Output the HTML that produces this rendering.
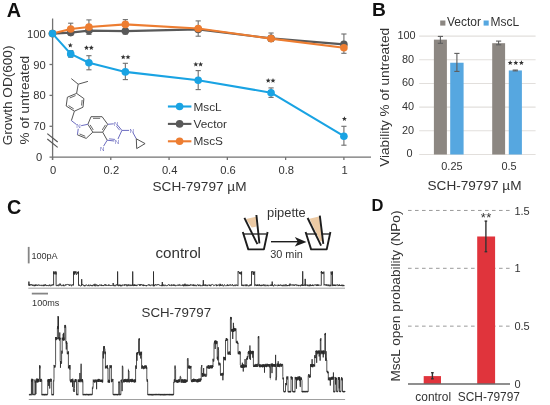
<!DOCTYPE html>
<html><head><meta charset="utf-8"><style>
html,body{margin:0;padding:0;background:#fff;}
svg{display:block;will-change:transform;filter:blur(0.3px);}
text{font-family:"Liberation Sans",sans-serif;}
</style></head><body>
<svg width="550" height="405" viewBox="0 0 550 405" font-family="Liberation Sans, sans-serif">
<rect width="550" height="405" fill="#fff"/>
<text x="6.8" y="16.9" font-size="19.8" text-anchor="start" fill="#111" font-weight="bold" >A</text>
<line x1="52.6" y1="18.5" x2="52.6" y2="160" stroke="#727272" stroke-width="1.3" />
<line x1="49.5" y1="157.1" x2="371" y2="157.1" stroke="#727272" stroke-width="1.3" />
<line x1="49.5" y1="33.6" x2="52.6" y2="33.6" stroke="#727272" stroke-width="1.3" />
<text x="45.7" y="37.6" font-size="11.2" text-anchor="end" fill="#333" font-weight="normal" >100</text>
<line x1="49.5" y1="64.5" x2="52.6" y2="64.5" stroke="#727272" stroke-width="1.3" />
<text x="45.7" y="68.5" font-size="11.2" text-anchor="end" fill="#333" font-weight="normal" >90</text>
<line x1="49.5" y1="95.4" x2="52.6" y2="95.4" stroke="#727272" stroke-width="1.3" />
<text x="45.7" y="99.4" font-size="11.2" text-anchor="end" fill="#333" font-weight="normal" >80</text>
<line x1="49.5" y1="126.3" x2="52.6" y2="126.3" stroke="#727272" stroke-width="1.3" />
<text x="45.7" y="130.3" font-size="11.2" text-anchor="end" fill="#333" font-weight="normal" >70</text>
<text x="42.2" y="161.4" font-size="11.2" text-anchor="end" fill="#333" font-weight="normal" >0</text>
<line x1="47.3" y1="133.6" x2="57.7" y2="142" stroke="#555" stroke-width="1.2" />
<line x1="47.3" y1="139" x2="57.7" y2="147.4" stroke="#555" stroke-width="1.2" />
<line x1="52.5" y1="157.1" x2="52.5" y2="160" stroke="#727272" stroke-width="1.3" />
<text x="53.1" y="174.2" font-size="11.2" text-anchor="middle" fill="#333" font-weight="normal" >0</text>
<line x1="110.78" y1="157.1" x2="110.78" y2="160" stroke="#727272" stroke-width="1.3" />
<text x="111.38" y="174.2" font-size="11.2" text-anchor="middle" fill="#333" font-weight="normal" >0.2</text>
<line x1="169.06" y1="157.1" x2="169.06" y2="160" stroke="#727272" stroke-width="1.3" />
<text x="169.66" y="174.2" font-size="11.2" text-anchor="middle" fill="#333" font-weight="normal" >0.4</text>
<line x1="227.34" y1="157.1" x2="227.34" y2="160" stroke="#727272" stroke-width="1.3" />
<text x="227.94" y="174.2" font-size="11.2" text-anchor="middle" fill="#333" font-weight="normal" >0.6</text>
<line x1="285.62" y1="157.1" x2="285.62" y2="160" stroke="#727272" stroke-width="1.3" />
<text x="286.22" y="174.2" font-size="11.2" text-anchor="middle" fill="#333" font-weight="normal" >0.8</text>
<line x1="343.9" y1="157.1" x2="343.9" y2="160" stroke="#727272" stroke-width="1.3" />
<text x="344.5" y="174.2" font-size="11.2" text-anchor="middle" fill="#333" font-weight="normal" >1</text>
<text x="199.5" y="190.7" font-size="13.6" text-anchor="middle" fill="#333" font-weight="normal" >SCH-79797 µM</text>
<text transform="translate(12.3,95.4) rotate(-90)" font-size="13.6" text-anchor="middle" fill="#333">Growth OD(600)</text>
<text transform="translate(28.6,100.2) rotate(-90)" font-size="13.6" text-anchor="middle" fill="#333">% of untreated</text>
<line x1="70.71" y1="23.2" x2="70.71" y2="35.2" stroke="#6e6e6e" stroke-width="1.1" />
<line x1="68.11" y1="23.2" x2="73.31" y2="23.2" stroke="#6e6e6e" stroke-width="1.1" />
<line x1="68.11" y1="35.2" x2="73.31" y2="35.2" stroke="#6e6e6e" stroke-width="1.1" />
<line x1="88.92" y1="19.9" x2="88.92" y2="34.4" stroke="#6e6e6e" stroke-width="1.1" />
<line x1="86.33" y1="19.9" x2="91.52" y2="19.9" stroke="#6e6e6e" stroke-width="1.1" />
<line x1="86.33" y1="34.4" x2="91.52" y2="34.4" stroke="#6e6e6e" stroke-width="1.1" />
<line x1="125.35" y1="19.6" x2="125.35" y2="34.1" stroke="#6e6e6e" stroke-width="1.1" />
<line x1="122.75" y1="19.6" x2="127.95" y2="19.6" stroke="#6e6e6e" stroke-width="1.1" />
<line x1="122.75" y1="34.1" x2="127.95" y2="34.1" stroke="#6e6e6e" stroke-width="1.1" />
<line x1="198.2" y1="20.9" x2="198.2" y2="36.2" stroke="#6e6e6e" stroke-width="1.1" />
<line x1="195.6" y1="20.9" x2="200.8" y2="20.9" stroke="#6e6e6e" stroke-width="1.1" />
<line x1="195.6" y1="36.2" x2="200.8" y2="36.2" stroke="#6e6e6e" stroke-width="1.1" />
<line x1="271.05" y1="33" x2="271.05" y2="41.5" stroke="#6e6e6e" stroke-width="1.1" />
<line x1="268.45" y1="33" x2="273.65" y2="33" stroke="#6e6e6e" stroke-width="1.1" />
<line x1="268.45" y1="41.5" x2="273.65" y2="41.5" stroke="#6e6e6e" stroke-width="1.1" />
<line x1="343.9" y1="34" x2="343.9" y2="53.3" stroke="#6e6e6e" stroke-width="1.1" />
<line x1="341.3" y1="34" x2="346.5" y2="34" stroke="#6e6e6e" stroke-width="1.1" />
<line x1="341.3" y1="53.3" x2="346.5" y2="53.3" stroke="#6e6e6e" stroke-width="1.1" />
<polyline points="52.5,33.6 70.71,32.6 88.92,30.6 125.35,31.1 198.2,29.4 271.05,38.4 343.9,44.4" fill="none" stroke="#595959" stroke-width="2.1" stroke-linejoin="round"/>
<circle cx="52.5" cy="33.6" r="3.8" fill="#595959"/>
<circle cx="70.71" cy="32.6" r="3.8" fill="#595959"/>
<circle cx="88.92" cy="30.6" r="3.8" fill="#595959"/>
<circle cx="125.35" cy="31.1" r="3.8" fill="#595959"/>
<circle cx="198.2" cy="29.4" r="3.8" fill="#595959"/>
<circle cx="271.05" cy="38.4" r="3.8" fill="#595959"/>
<circle cx="343.9" cy="44.4" r="3.8" fill="#595959"/>
<polyline points="52.5,33.6 70.71,29 88.92,27 125.35,24.4 198.2,28.5 271.05,38.6 343.9,47.8" fill="none" stroke="#ed7d31" stroke-width="2.1" stroke-linejoin="round"/>
<circle cx="52.5" cy="33.6" r="3.8" fill="#ed7d31"/>
<circle cx="70.71" cy="29" r="3.8" fill="#ed7d31"/>
<circle cx="88.92" cy="27" r="3.8" fill="#ed7d31"/>
<circle cx="125.35" cy="24.4" r="3.8" fill="#ed7d31"/>
<circle cx="198.2" cy="28.5" r="3.8" fill="#ed7d31"/>
<circle cx="271.05" cy="38.6" r="3.8" fill="#ed7d31"/>
<circle cx="343.9" cy="47.8" r="3.8" fill="#ed7d31"/>
<line x1="70.71" y1="50.6" x2="70.71" y2="57.2" stroke="#6e6e6e" stroke-width="1.1" />
<line x1="68.11" y1="50.6" x2="73.31" y2="50.6" stroke="#6e6e6e" stroke-width="1.1" />
<line x1="68.11" y1="57.2" x2="73.31" y2="57.2" stroke="#6e6e6e" stroke-width="1.1" />
<line x1="88.92" y1="55.7" x2="88.92" y2="69.8" stroke="#6e6e6e" stroke-width="1.1" />
<line x1="86.33" y1="55.7" x2="91.52" y2="55.7" stroke="#6e6e6e" stroke-width="1.1" />
<line x1="86.33" y1="69.8" x2="91.52" y2="69.8" stroke="#6e6e6e" stroke-width="1.1" />
<line x1="125.35" y1="63.3" x2="125.35" y2="79.6" stroke="#6e6e6e" stroke-width="1.1" />
<line x1="122.75" y1="63.3" x2="127.95" y2="63.3" stroke="#6e6e6e" stroke-width="1.1" />
<line x1="122.75" y1="79.6" x2="127.95" y2="79.6" stroke="#6e6e6e" stroke-width="1.1" />
<line x1="198.2" y1="70.6" x2="198.2" y2="89.6" stroke="#6e6e6e" stroke-width="1.1" />
<line x1="195.6" y1="70.6" x2="200.8" y2="70.6" stroke="#6e6e6e" stroke-width="1.1" />
<line x1="195.6" y1="89.6" x2="200.8" y2="89.6" stroke="#6e6e6e" stroke-width="1.1" />
<line x1="271.05" y1="87.9" x2="271.05" y2="97.4" stroke="#6e6e6e" stroke-width="1.1" />
<line x1="268.45" y1="87.9" x2="273.65" y2="87.9" stroke="#6e6e6e" stroke-width="1.1" />
<line x1="268.45" y1="97.4" x2="273.65" y2="97.4" stroke="#6e6e6e" stroke-width="1.1" />
<line x1="343.9" y1="126.3" x2="343.9" y2="145.2" stroke="#6e6e6e" stroke-width="1.1" />
<line x1="341.3" y1="126.3" x2="346.5" y2="126.3" stroke="#6e6e6e" stroke-width="1.1" />
<line x1="341.3" y1="145.2" x2="346.5" y2="145.2" stroke="#6e6e6e" stroke-width="1.1" />
<polyline points="52.5,33.6 70.71,53.9 88.92,62.7 125.35,71.9 198.2,80.2 271.05,92.7 343.9,136.2" fill="none" stroke="#19a3e3" stroke-width="2.1" stroke-linejoin="round"/>
<circle cx="52.5" cy="33.6" r="3.8" fill="#19a3e3"/>
<circle cx="70.71" cy="53.9" r="3.8" fill="#19a3e3"/>
<circle cx="88.92" cy="62.7" r="3.8" fill="#19a3e3"/>
<circle cx="125.35" cy="71.9" r="3.8" fill="#19a3e3"/>
<circle cx="198.2" cy="80.2" r="3.8" fill="#19a3e3"/>
<circle cx="271.05" cy="92.7" r="3.8" fill="#19a3e3"/>
<circle cx="343.9" cy="136.2" r="3.8" fill="#19a3e3"/>
<polygon points="70.3,42.8 70.99,44.45 72.77,44.6 71.41,45.76 71.83,47.5 70.3,46.57 68.77,47.5 69.19,45.76 67.83,44.6 69.61,44.45" fill="#333"/>
<polygon points="86.5,45.2 87.19,46.85 88.97,47 87.61,48.16 88.03,49.9 86.5,48.97 84.97,49.9 85.39,48.16 84.03,47 85.81,46.85" fill="#333"/>
<polygon points="91.3,45.2 91.99,46.85 93.77,47 92.41,48.16 92.83,49.9 91.3,48.97 89.77,49.9 90.19,48.16 88.83,47 90.61,46.85" fill="#333"/>
<polygon points="123.2,54.5 123.89,56.15 125.67,56.3 124.31,57.46 124.73,59.2 123.2,58.27 121.67,59.2 122.09,57.46 120.73,56.3 122.51,56.15" fill="#333"/>
<polygon points="128,54.5 128.69,56.15 130.47,56.3 129.11,57.46 129.53,59.2 128,58.27 126.47,59.2 126.89,57.46 125.53,56.3 127.31,56.15" fill="#333"/>
<polygon points="195.8,61.8 196.49,63.45 198.27,63.6 196.91,64.76 197.33,66.5 195.8,65.57 194.27,66.5 194.69,64.76 193.33,63.6 195.11,63.45" fill="#333"/>
<polygon points="200.6,61.8 201.29,63.45 203.07,63.6 201.71,64.76 202.13,66.5 200.6,65.57 199.07,66.5 199.49,64.76 198.13,63.6 199.91,63.45" fill="#333"/>
<polygon points="268.2,78 268.89,79.65 270.67,79.8 269.31,80.96 269.73,82.7 268.2,81.77 266.67,82.7 267.09,80.96 265.73,79.8 267.51,79.65" fill="#333"/>
<polygon points="273,78 273.69,79.65 275.47,79.8 274.11,80.96 274.53,82.7 273,81.77 271.47,82.7 271.89,80.96 270.53,79.8 272.31,79.65" fill="#333"/>
<polygon points="344.4,116.3 345.09,117.95 346.87,118.1 345.51,119.26 345.93,121 344.4,120.07 342.87,121 343.29,119.26 341.93,118.1 343.71,117.95" fill="#333"/>
<line x1="167.9" y1="106.5" x2="191.4" y2="106.5" stroke="#19a3e3" stroke-width="2.1" />
<circle cx="179.6" cy="106.5" r="3.8" fill="#19a3e3"/>
<text x="193.5" y="110.6" font-size="11.8" text-anchor="start" fill="#333" font-weight="normal" >MscL</text>
<line x1="167.9" y1="123.9" x2="191.4" y2="123.9" stroke="#595959" stroke-width="2.1" />
<circle cx="179.6" cy="123.9" r="3.8" fill="#595959"/>
<text x="193.5" y="128" font-size="11.8" text-anchor="start" fill="#333" font-weight="normal" >Vector</text>
<line x1="167.9" y1="141.3" x2="191.4" y2="141.3" stroke="#ed7d31" stroke-width="2.1" />
<circle cx="179.6" cy="141.3" r="3.8" fill="#ed7d31"/>
<text x="193.5" y="145.4" font-size="11.8" text-anchor="start" fill="#333" font-weight="normal" >MscS</text>
<line x1="71.3" y1="78.6" x2="78.2" y2="84.2" stroke="#555" stroke-width="1.0" />
<line x1="78.2" y1="84.2" x2="87.9" y2="81.4" stroke="#555" stroke-width="1.0" />
<line x1="78.2" y1="84.2" x2="76.6" y2="93.4" stroke="#555" stroke-width="1.0" />
<line x1="76.6" y1="93.4" x2="83.9" y2="98.6" stroke="#555" stroke-width="1.0" />
<line x1="83.9" y1="98.6" x2="83" y2="107.2" stroke="#555" stroke-width="1.0" />
<line x1="83" y1="107.2" x2="74.4" y2="111.2" stroke="#555" stroke-width="1.0" />
<line x1="74.4" y1="111.2" x2="66.2" y2="106" stroke="#555" stroke-width="1.0" />
<line x1="66.2" y1="106" x2="67.4" y2="97.2" stroke="#555" stroke-width="1.0" />
<line x1="67.4" y1="97.2" x2="76.6" y2="93.4" stroke="#555" stroke-width="1.0" />
<line x1="69.67" y1="97.99" x2="75.55" y2="95.56" stroke="#555" stroke-width="0.9" />
<line x1="82.15" y1="99.98" x2="81.57" y2="105.49" stroke="#555" stroke-width="0.9" />
<line x1="73.78" y1="108.91" x2="68.53" y2="105.58" stroke="#555" stroke-width="0.9" />
<line x1="74.4" y1="111.2" x2="71.4" y2="120.6" stroke="#555" stroke-width="1.0" />
<line x1="71.4" y1="120.6" x2="78.6" y2="126.2" stroke="#6b6bc0" stroke-width="1.0" />
<line x1="91" y1="116.7" x2="102.1" y2="116.7" stroke="#555" stroke-width="1.0" />
<line x1="102.1" y1="116.7" x2="107.7" y2="124.3" stroke="#555" stroke-width="1.0" />
<line x1="107.7" y1="124.3" x2="102.7" y2="132.2" stroke="#555" stroke-width="1.0" />
<line x1="102.7" y1="132.2" x2="92.8" y2="132.2" stroke="#555" stroke-width="1.0" />
<line x1="92.8" y1="132.2" x2="87.9" y2="124.3" stroke="#555" stroke-width="1.0" />
<line x1="87.9" y1="124.3" x2="91" y2="116.7" stroke="#555" stroke-width="1.0" />
<line x1="93" y1="118.3" x2="100.1" y2="118.3" stroke="#555" stroke-width="0.9" />
<line x1="105.45" y1="124.87" x2="102.25" y2="129.92" stroke="#555" stroke-width="0.9" />
<line x1="93.28" y1="129.93" x2="90.14" y2="124.88" stroke="#555" stroke-width="0.9" />
<line x1="78.6" y1="126.2" x2="87.9" y2="124.3" stroke="#6b6bc0" stroke-width="1.0" />
<line x1="78.6" y1="126.2" x2="77.4" y2="134.8" stroke="#6b6bc0" stroke-width="1.0" />
<line x1="77.4" y1="134.8" x2="86.2" y2="138.4" stroke="#555" stroke-width="1.0" />
<line x1="86.2" y1="138.4" x2="92.8" y2="132.2" stroke="#555" stroke-width="1.0" />
<line x1="79.59" y1="133.97" x2="85.22" y2="136.27" stroke="#555" stroke-width="0.9" />
<line x1="107.7" y1="124.3" x2="116.3" y2="123.6" stroke="#6b6bc0" stroke-width="1.0" />
<line x1="116.3" y1="123.6" x2="121.9" y2="130.4" stroke="#6b6bc0" stroke-width="1.0" />
<line x1="121.9" y1="130.4" x2="116.9" y2="141.3" stroke="#6b6bc0" stroke-width="1.0" />
<line x1="116.9" y1="141.3" x2="107.2" y2="140.2" stroke="#6b6bc0" stroke-width="1.0" />
<line x1="107.2" y1="140.2" x2="102.7" y2="132.2" stroke="#555" stroke-width="1.0" />
<line x1="116.07" y1="125.84" x2="119.66" y2="130.19" stroke="#6b6bc0" stroke-width="0.9" />
<line x1="115.33" y1="139.51" x2="109.13" y2="138.81" stroke="#6b6bc0" stroke-width="0.9" />
<line x1="107.2" y1="140.2" x2="102.2" y2="148.4" stroke="#6b6bc0" stroke-width="1.0" />
<line x1="121.9" y1="130.4" x2="131.7" y2="130.4" stroke="#6b6bc0" stroke-width="1.0" />
<line x1="131.7" y1="130.4" x2="136.3" y2="138.8" stroke="#6b6bc0" stroke-width="1.0" />
<line x1="136.3" y1="138.8" x2="145.1" y2="143.6" stroke="#555" stroke-width="1.0" />
<line x1="145.1" y1="143.6" x2="136.7" y2="148.6" stroke="#555" stroke-width="1.0" />
<line x1="136.7" y1="148.6" x2="136.3" y2="138.8" stroke="#555" stroke-width="1.0" />
<circle cx="78.6" cy="126.2" r="2.6" fill="#fff"/>
<text x="78.6" y="128.4" font-size="6.2" text-anchor="middle" fill="#6b6bc0" font-weight="normal" >N</text>
<circle cx="116.3" cy="123.6" r="2.6" fill="#fff"/>
<text x="116.3" y="125.8" font-size="6.2" text-anchor="middle" fill="#6b6bc0" font-weight="normal" >N</text>
<circle cx="116.9" cy="141.3" r="2.6" fill="#fff"/>
<text x="116.9" y="143.5" font-size="6.2" text-anchor="middle" fill="#6b6bc0" font-weight="normal" >N</text>
<circle cx="102.2" cy="148.4" r="2.6" fill="#fff"/>
<text x="102.2" y="150.6" font-size="6.2" text-anchor="middle" fill="#6b6bc0" font-weight="normal" >N</text>
<circle cx="131.7" cy="130.4" r="2.6" fill="#fff"/>
<text x="131.7" y="132.6" font-size="6.2" text-anchor="middle" fill="#6b6bc0" font-weight="normal" >N</text>
<text x="371.9" y="16.4" font-size="19.2" text-anchor="start" fill="#111" font-weight="bold" >B</text>
<line x1="419.2" y1="154.5" x2="535.6" y2="154.5" stroke="#e2dfdc" stroke-width="1.1" />
<text x="412.6" y="157.3" font-size="10.9" text-anchor="end" fill="#333" font-weight="normal" >0</text>
<line x1="419.2" y1="130.82" x2="535.6" y2="130.82" stroke="#e2dfdc" stroke-width="1.1" />
<text x="414.2" y="133.62" font-size="10.9" text-anchor="end" fill="#333" font-weight="normal" >20</text>
<line x1="419.2" y1="107.14" x2="535.6" y2="107.14" stroke="#e2dfdc" stroke-width="1.1" />
<text x="414.2" y="109.94" font-size="10.9" text-anchor="end" fill="#333" font-weight="normal" >40</text>
<line x1="419.2" y1="83.46" x2="535.6" y2="83.46" stroke="#e2dfdc" stroke-width="1.1" />
<text x="414.2" y="86.26" font-size="10.9" text-anchor="end" fill="#333" font-weight="normal" >60</text>
<line x1="419.2" y1="59.78" x2="535.6" y2="59.78" stroke="#e2dfdc" stroke-width="1.1" />
<text x="414.2" y="62.58" font-size="10.9" text-anchor="end" fill="#333" font-weight="normal" >80</text>
<line x1="419.2" y1="36.1" x2="535.6" y2="36.1" stroke="#e2dfdc" stroke-width="1.1" />
<text x="415.6" y="38.9" font-size="10.9" text-anchor="end" fill="#333" font-weight="normal" >100</text>
<rect x="433.9" y="39.65" width="13" height="114.85" fill="#8c8782"/>
<rect x="450.2" y="62.74" width="13.4" height="91.76" fill="#56a7e0"/>
<rect x="492.2" y="43.2" width="12.9" height="111.3" fill="#8c8782"/>
<rect x="508.8" y="70.44" width="13.1" height="84.06" fill="#56a7e0"/>
<line x1="440.4" y1="36.4" x2="440.4" y2="43.3" stroke="#5d5d5d" stroke-width="1.1" />
<line x1="437.8" y1="36.4" x2="443" y2="36.4" stroke="#5d5d5d" stroke-width="1.1" />
<line x1="437.8" y1="43.3" x2="443" y2="43.3" stroke="#5d5d5d" stroke-width="1.1" />
<line x1="456.9" y1="53.4" x2="456.9" y2="71.4" stroke="#5d5d5d" stroke-width="1.1" />
<line x1="454.3" y1="53.4" x2="459.5" y2="53.4" stroke="#5d5d5d" stroke-width="1.1" />
<line x1="454.3" y1="71.4" x2="459.5" y2="71.4" stroke="#5d5d5d" stroke-width="1.1" />
<line x1="498.6" y1="41.1" x2="498.6" y2="44.8" stroke="#5d5d5d" stroke-width="1.1" />
<line x1="496" y1="41.1" x2="501.2" y2="41.1" stroke="#5d5d5d" stroke-width="1.1" />
<line x1="496" y1="44.8" x2="501.2" y2="44.8" stroke="#5d5d5d" stroke-width="1.1" />
<line x1="515.3" y1="70" x2="515.3" y2="70.9" stroke="#5d5d5d" stroke-width="1.0" />
<line x1="512.7" y1="70" x2="517.9" y2="70" stroke="#5d5d5d" stroke-width="1.0" />
<line x1="512.7" y1="70.9" x2="517.9" y2="70.9" stroke="#5d5d5d" stroke-width="1.0" />
<polygon points="510.2,60.3 510.89,61.95 512.67,62.1 511.31,63.26 511.73,65 510.2,64.07 508.67,65 509.09,63.26 507.73,62.1 509.51,61.95" fill="#333"/>
<polygon points="515.8,60.3 516.49,61.95 518.27,62.1 516.91,63.26 517.33,65 515.8,64.07 514.27,65 514.69,63.26 513.33,62.1 515.11,61.95" fill="#333"/>
<polygon points="521.4,60.3 522.09,61.95 523.87,62.1 522.51,63.26 522.93,65 521.4,64.07 519.87,65 520.29,63.26 518.93,62.1 520.71,61.95" fill="#333"/>
<rect x="440.2" y="20.5" width="5.2" height="5.1" fill="#8c8782"/>
<text x="447" y="26" font-size="12.0" text-anchor="start" fill="#333" font-weight="normal" >Vector</text>
<rect x="483.6" y="20.5" width="5.1" height="5.1" fill="#56a7e0"/>
<text x="490.6" y="26" font-size="12.0" text-anchor="start" fill="#333" font-weight="normal" >MscL</text>
<text x="451.9" y="170.3" font-size="10.9" text-anchor="middle" fill="#333" font-weight="normal" >0.25</text>
<text x="509" y="170.3" font-size="10.9" text-anchor="middle" fill="#333" font-weight="normal" >0.5</text>
<text x="474.5" y="190.4" font-size="13.6" text-anchor="middle" fill="#333" font-weight="normal" >SCH-79797 µM</text>
<text transform="translate(388.6,97.4) rotate(-90)" font-size="13.6" text-anchor="middle" fill="#333">Viability % of untreated</text>
<text x="7" y="214" font-size="19.8" text-anchor="start" fill="#111" font-weight="bold" >C</text>
<line x1="28.7" y1="246.9" x2="28.7" y2="263.4" stroke="#858585" stroke-width="1.8" />
<line x1="31.8" y1="293.6" x2="48" y2="293.6" stroke="#858585" stroke-width="1.8" />
<text x="31.4" y="258.8" font-size="9.1" text-anchor="start" fill="#333" font-weight="normal" >100pA</text>
<text x="32.1" y="305.8" font-size="9.1" text-anchor="start" fill="#333" font-weight="normal" >100ms</text>
<text x="178.2" y="258.3" font-size="15.2" text-anchor="middle" fill="#333" font-weight="normal" >control</text>
<text x="176.3" y="316.7" font-size="13.3" text-anchor="middle" fill="#333" font-weight="normal" >SCH-79797</text>
<text x="286.4" y="216.8" font-size="12.9" text-anchor="middle" fill="#333" font-weight="normal" >pipette</text>
<text x="286.6" y="258.3" font-size="10.9" text-anchor="middle" fill="#333" font-weight="normal" >30 min</text>
<line x1="28.3" y1="288.2" x2="345" y2="288.2" stroke="#a0a0a0" stroke-width="1.0" />
<line x1="28.8" y1="399.5" x2="345.1" y2="399.5" stroke="#a0a0a0" stroke-width="1.0" />
<polyline points="28.8,284.98 28.9,285.3 28.9,281.6 28.95,285.3 29.1,284.67 29.4,285.57 29.7,284.53 30,285.36 30.3,285.06 30.6,284.5 30.9,285.31 31.2,284.47 31.5,285.18 31.8,284.53 32.1,284.56 32.4,285.16 32.7,285.89 33,284.62 33.3,284.8 33.6,285.53 33.9,286.11 34.2,285.44 34.5,285.11 34.8,286.16 35.1,284.48 35.4,285.95 35.7,284.92 36,284.66 36.3,284.61 36.6,284.96 36.9,285.87 37.2,284.73 37.5,285.45 37.8,285.55 38.1,285.07 38.4,285.39 38.7,284.51 39,284.51 39.3,284.77 39.6,285.62 39.9,285.17 40.2,284.97 40.5,285.45 40.8,285.22 41.1,284.94 41.4,285.83 41.7,285.66 42,284.84 42.3,285.43 42.6,285.35 42.9,285.98 43.2,285.71 43.5,284.92 43.8,286.16 44.1,284.61 44.4,285.15 44.7,285.76 45,284.67 45.3,285.28 45.6,284.47 45.9,285.6 46.2,285.78 46.5,285.43 46.8,285.98 47.1,284.96 47.4,285.65 47.7,285.47 48,285.44 48.3,285.22 48.6,285.91 48.9,286.1 49.2,285.25 49.5,285.6 49.8,284.51 50.1,285.66 50.4,285.56 50.7,286.19 51,285.88 51.3,284.91 51.6,285.09 51.9,285.6 52.2,284.44 52.5,285.23 52.8,284.7 53.1,284.61 53.4,284.51 53.6,285.3 53.6,271.6 53.7,273.97 54,271.67 54.3,272.09 54.6,272.61 54.9,274.34 55.2,271.49 55.5,272.82 55.8,273.18 56.1,274.38 56.1,271.6 56.1,285.3 56.4,285.87 56.7,285.96 57,284.9 57.3,285.15 57.6,285.05 57.9,285.99 58.2,286.12 58.5,284.67 58.8,284.72 59.1,284.82 59.4,284.82 59.7,285.27 60,285.46 60,285.3 60,283.5 60.05,285.3 60.3,284.87 60.6,284.41 60.9,285.15 61.2,285.06 61.5,285.42 61.8,286.12 62.1,285.64 62.4,285.33 62.7,285.51 63,285.62 63.3,284.5 63.6,286.02 63.9,285.8 64.2,285.97 64.5,285.84 64.8,285.11 65.1,285.12 65.4,284.59 65.7,285.54 66,284.51 66.3,284.52 66.6,284.78 66.9,284.69 67.2,285.01 67.5,284.49 67.8,284.4 68.1,284.67 68.4,284.58 68.7,285.05 69,284.45 69.3,285.97 69.6,285.51 69.9,284.67 70.2,284.85 70.5,285.03 70.8,285.06 71.1,284.62 71.4,285.93 71.7,286.19 72,285.24 72.3,285.27 72.6,284.55 72.9,284.58 73.2,285.02 73.5,284.88 73.5,285.3 73.5,271.6 73.8,274.18 74.1,271.78 74.4,271.28 74.7,274.62 75,273.1 75.3,271.73 75.6,273.16 75.9,271.3 76.2,273.1 76.5,274.72 76.8,274.31 77.1,273.71 77.4,272.14 77.7,272.52 78,271.8 78.3,273.98 78.5,271.6 78.5,285.3 78.6,285.36 78.9,285.8 79.2,284.99 79.5,284.8 79.8,285.86 80.1,286.17 80.4,285.93 80.7,285.85 81,285.87 81.3,285.73 81.6,284.81 81.7,285.3 81.7,279.2 81.75,285.3 81.9,285.33 82.2,285.04 82.5,284.45 82.8,284.45 83.1,284.9 83.4,284.87 83.7,285.65 84,286.12 84.3,285.21 84.6,286.09 84.9,286.18 85.2,286.12 85.5,285.06 85.8,284.8 86.1,284.81 86.4,284.75 86.7,284.77 87,285.52 87.3,286.02 87.6,285.91 87.9,285.26 88.2,285.58 88.5,285.84 88.8,284.55 89.1,285.59 89.4,286.04 89.7,285.81 90,285.75 90.3,285.26 90.6,284.72 90.9,285.82 91.2,285 91.5,285.84 91.8,286.15 92.1,285.11 92.4,285.12 92.7,286.1 93,285.7 93.3,284.71 93.6,284.63 93.9,284.67 94.2,286.03 94.5,285.85 94.8,284.66 95,285.3 95,283.8 95.05,285.3 95.1,285.89 95.4,286.16 95.7,285.58 96,285.03 96.3,285.39 96.6,284.64 96.9,284.43 97.2,286.15 97.5,285.57 97.8,285.35 98.1,286.08 98.4,285.18 98.7,285.97 99,285.89 99.3,284.78 99.6,284.85 99.9,284.93 100.2,284.83 100.5,285.46 100.8,284.87 101.1,285.15 101.4,284.64 101.7,286.04 102,285.04 102.3,285.22 102.6,285.45 102.9,286.03 103.2,285.16 103.5,286.05 103.8,285.3 104.1,285.36 104.4,285.34 104.7,284.43 105,285.19 105.3,284.73 105.6,284.41 105.9,285.84 106.2,284.71 106.5,285.25 106.8,285.71 107.1,285.4 107.4,284.99 107.7,285.33 108,285.4 108.3,285.81 108.6,284.59 108.9,285.41 109.2,284.85 109.5,284.9 109.8,285.79 110.1,285.31 110.4,285.41 110.7,285.77 111,286.04 111.3,285.2 111.6,285.5 111.9,285.31 112.2,285.32 112.5,285.65 112.8,285.21 113.1,285.36 113.2,285.3 113.2,283 113.25,285.3 113.4,285.26 113.7,286.09 114,285.66 114.3,285.98 114.6,286.1 114.9,284.87 115.2,285.41 115.5,286.1 115.8,285.91 116.1,284.65 116.4,284.62 116.7,285.2 117,284.53 117.3,284.83 117.6,284.53 117.6,285.3 117.6,271.5 117.65,285.3 117.9,285.61 118.2,285.81 118.5,286.01 118.8,284.68 119.1,285.69 119.4,285.59 119.7,284.66 120,285.99 120.3,286.14 120.6,284.8 120.9,286.11 121.2,285.12 121.5,285.28 121.8,286.18 122.1,285.9 122.4,284.69 122.7,285.18 123,285.33 123.3,285.01 123.6,284.75 123.9,284.97 124.2,285.7 124.5,284.44 124.8,285.4 125.1,285.19 125.4,284.43 125.7,285 126,285.52 126.3,285.32 126.6,284.52 126.9,286.17 127.2,285.82 127.5,286.15 127.8,284.59 128.1,284.88 128.4,284.47 128.7,285.8 129,284.89 129.3,284.63 129.6,285.16 129.9,286.04 130.2,285.87 130.5,284.87 130.8,284.67 131.1,286.05 131.4,285.43 131.7,285.66 132,284.56 132.3,284.5 132.6,285.64 132.7,285.3 132.7,271.5 132.75,285.3 132.9,285.17 133.2,284.53 133.5,286.09 133.8,285.54 134.1,285.84 134.4,284.55 134.7,285.94 135,284.52 135.3,285.95 135.6,285.22 135.9,285.01 136.2,285.4 136.5,286.07 136.8,284.88 137.1,284.63 137.4,285.35 137.7,284.83 138,284.6 138.3,284.69 138.6,284.49 138.9,284.76 139.2,284.96 139.5,284.95 139.8,285.77 140,285.3 140,284 140.05,285.3 140.1,284.92 140.4,285.3 140.7,284.72 141,285.02 141.3,284.43 141.6,284.85 141.9,284.43 142.2,285.72 142.5,285.39 142.8,284.74 143.1,285.25 143.4,286.08 143.7,284.59 144,285.87 144.3,285.18 144.6,285.29 144.9,285.9 145.2,285.11 145.5,285.31 145.8,285.64 146.1,286.17 146.4,285.02 146.7,285.9 147,285.67 147.3,285.54 147.6,285.13 147.9,285.03 148.2,284.5 148.5,284.63 148.8,284.53 149.1,285.73 149.4,284.86 149.7,284.69 150,284.55 150.3,285.91 150.6,285.97 150.9,285.61 151.2,284.91 151.5,284.84 151.8,284.93 152.1,285.23 152.4,284.68 152.7,285.2 153,284.87 153.3,286.13 153.5,285.3 153.5,271.5 153.55,285.3 153.6,286.15 153.9,285.38 154.2,284.84 154.5,286.14 154.8,284.96 155.1,285.04 155.4,284.4 155.7,285.09 156,285.25 156.3,285.3 156.6,284.76 156.9,285.31 157.2,284.41 157.5,284.88 157.8,284.56 158.1,285.12 158.4,284.48 158.7,284.44 159,284.95 159.3,284.82 159.6,285.45 159.9,285.35 160.2,285.75 160.5,285.58 160.8,285.69 161.1,285.98 161.4,285.1 161.7,284.99 162,286.17 162.3,285.3 162.3,282 162.35,285.3 162.3,284.67 162.6,285.7 162.9,285.56 163.2,284.48 163.5,285.9 163.8,286.01 164.1,285.53 164.4,285.72 164.7,285.86 165,284.65 165.3,285.34 165.6,285.31 165.9,285.9 166.2,285.85 166.5,285.89 166.8,285.45 167.1,286.01 167.4,285.63 167.7,285.65 168,284.81 168.3,284.46 168.6,284.64 168.9,285.05 169.2,284.59 169.5,285.9 169.8,285.41 170.1,285.53 170.4,285.53 170.7,285.63 171,285.28 171.3,284.41 171.6,285.84 171.9,285.75 172.2,285.31 172.5,285.36 172.8,285.59 173.1,284.52 173.4,285.73 173.7,284.85 174,284.53 174.3,284.88 174.6,285.71 174.9,284.77 175.2,285.73 175.5,286.16 175.8,285.29 176.1,285.09 176.4,285.26 176.7,285.63 177,285.78 177.3,285.51 177.6,285.56 177.9,284.54 178.2,284.67 178.5,284.86 178.8,285.74 179.1,284.95 179.4,285.42 179.7,284.42 180,284.51 180.3,284.88 180.6,285.61 180.9,285.65 181.2,285.62 181.5,284.92 181.8,285.33 182.1,285.24 182.4,285.24 182.7,284.61 183,286.01 183.3,284.76 183.6,286.16 183.9,286.09 184.2,284.43 184.5,285.23 184.8,285.88 185,285.3 185,283.7 185.05,285.3 185.1,286.14 185.4,285.21 185.7,284.88 186,284.78 186.3,286.1 186.6,284.78 186.9,285.45 187.2,284.66 187.5,285.34 187.8,286.11 188.1,284.64 188.4,285.88 188.7,285.32 189,286 189.3,285.67 189.6,284.82 189.9,286.02 190.2,285.28 190.5,284.44 190.8,284.41 191.1,285.29 191.4,285.21 191.7,284.94 192,284.65 192.3,285.02 192.6,284.97 192.9,285.91 193.2,284.4 193.5,285.75 193.8,285.91 194.1,284.62 194.4,286.07 194.7,285.68 195,286.02 195.3,284.92 195.6,285.07 195.9,285.11 196.2,286.2 196.5,285.46 196.8,285.05 197.1,285.17 197.4,284.9 197.7,284.49 198,284.58 198.3,285.9 198.6,284.91 198.9,286.08 199.2,284.85 199.5,284.88 199.8,285.32 200.1,284.74 200.4,285.07 200.7,286.12 201,285.99 201.3,285.86 201.6,285.54 201.9,286.04 202.2,286.09 202.5,285.39 202.8,285.7 203.1,284.49 203.3,285.3 203.3,280.2 203.35,285.3 203.4,285.72 203.7,285.21 204,285.75 204.3,285.56 204.6,284.92 204.9,284.49 205.2,286.07 205.5,284.63 205.8,285.25 206.1,285.02 206.4,284.94 206.7,285.73 207,286.16 207.3,284.87 207.6,285.58 207.9,284.94 208.2,285.4 208.5,285.11 208.8,284.7 209.1,284.69 209.4,284.77 209.7,286.03 210,285.29 210.3,284.8 210.6,286.03 210.9,286.19 211.2,285.21 211.5,284.65 211.8,284.75 212.1,284.56 212.4,285.02 212.7,284.56 213,284.83 213.3,284.87 213.6,285.43 213.9,286 214.2,285.75 214.5,285.14 214.8,285.14 215.1,285.34 215.4,285.08 215.7,285.01 216,284.51 216.3,284.9 216.6,286.14 216.9,284.63 217.2,285.31 217.5,285.53 217.8,285.95 218.1,284.79 218.4,284.89 218.7,284.85 219,285.12 219.3,285.2 219.6,286.12 219.9,285.93 220,285.3 220,283.8 220.05,285.3 220.2,285.97 220.5,284.44 220.8,284.46 221.1,285.68 221.4,286.01 221.7,285.25 222,285.46 222.3,284.4 222.6,285.1 222.9,286.07 223.2,285.89 223.5,285.94 223.8,286.15 224.1,284.85 224.4,284.6 224.7,284.68 225,285.34 225.3,285.63 225.6,286.09 225.9,285.7 226.2,285.57 226.5,285.78 226.8,285.22 227.1,285.39 227.4,284.47 227.7,285.81 228,284.82 228.3,286.06 228.6,285.56 228.9,284.95 229.2,284.63 229.5,284.85 229.8,285.55 230.1,285.66 230.4,284.6 230.7,284.53 231,285.34 231.3,285.45 231.6,285.1 231.9,284.8 232.2,285.48 232.5,284.42 232.8,284.94 233.1,285.23 233.4,286.13 233.7,285.56 234,285.99 234.3,285.26 234.6,284.82 234.9,284.84 235.2,286.13 235.5,285.67 235.8,284.95 236.1,284.44 236.4,285.3 236.7,285.61 237,285.16 237.3,284.86 237.6,285.6 237.9,286.07 238,285.3 238,271.6 238.2,272.02 238.5,271.32 238.8,272.42 239.1,272.71 239.4,273.66 239.7,271.91 240,274.07 240.3,273.86 240.6,273.02 240.9,271.94 241.2,274.69 241.5,272.32 241.6,271.6 241.6,285.3 241.8,285.88 242.1,284.82 242.4,284.8 242.7,285.77 243,284.93 243.3,286.11 243.6,285.29 243.9,284.74 244.2,284.8 244.5,285.15 244.8,285.6 245.1,286.11 245.4,284.66 245.7,285.11 246,284.78 246.3,286.15 246.6,284.66 246.9,284.49 247.2,284.51 247.5,285.11 247.8,286.02 248.1,285.99 248.4,285.72 248.7,286.2 249,286.08 249.3,284.99 249.6,284.73 249.9,286.08 250.2,285.74 250.5,284.46 250.8,285.6 251.1,285.08 251.4,285.07 251.5,285.3 251.5,271.6 251.7,272.39 252,271.81 252.3,271.21 252.6,272.21 252.9,272.47 253.2,274.64 253.5,271.65 253.8,274.67 254.1,271.95 254.4,272.48 254.7,271.6 254.7,285.3 254.7,285.88 255,285.88 255.3,285.18 255.6,284.49 255.9,285.25 256.2,285.07 256.5,286.06 256.8,284.75 257.1,285.06 257.4,286.01 257.7,284.45 258,285.14 258.3,285.86 258.6,285.78 258.9,284.47 259.2,284.46 259.5,284.51 259.8,286.06 260.1,284.86 260.4,285.75 260.7,286.02 261,285.01 261.3,284.89 261.6,286.12 261.9,285.51 262.2,284.87 262.5,285.69 262.8,284.97 263.1,284.9 263.4,284.41 263.7,285.76 264,286.05 264.3,285.54 264.6,286.1 264.9,284.44 265.2,284.82 265.5,285.26 265.8,286.12 266.1,286.12 266.4,285.1 266.7,284.85 267,285.17 267.3,285.29 267.6,286.07 267.9,284.73 268.2,285.84 268.5,285.73 268.8,285.88 269.1,285.79 269.4,285.49 269.7,284.99 270,284.98 270.3,285.05 270.6,285.81 270.9,284.54 271.2,284.76 271.5,285.76 271.8,284.85 272.1,284.52 272.2,285.3 272.2,281.6 272.25,285.3 272.4,284.46 272.7,285.39 273,284.99 273.3,286.16 273.6,285.99 273.9,286.18 274.2,284.88 274.5,284.55 274.8,284.57 275.1,285.3 275.4,285.68 275.7,285.2 276,284.82 276.3,285.15 276.6,285.52 276.9,285.61 277.2,285.75 277.5,285.92 277.8,285.6 278.1,284.62 278.4,285.91 278.7,284.93 279,285.42 279.3,285.07 279.6,285.73 279.9,284.76 280.2,284.85 280.5,284.84 280.8,284.68 281.1,285.99 281.4,285.44 281.7,284.99 282,285.11 282.3,286.19 282.6,285.31 282.9,284.82 283.2,285.86 283.5,285.58 283.8,286.18 284.1,284.58 284.4,285.25 284.7,285.87 285,285.91 285.3,286.05 285.6,284.47 285.9,284.93 286.2,284.61 286.5,284.74 286.8,286.15 287.1,285.45 287.4,286.07 287.7,285.07 288,285.96 288.3,285.21 288.6,284.87 288.9,285.8 289.2,286.1 289.5,284.59 289.8,285.47 290,285.3 290,283.6 290.05,285.3 290.1,285.52 290.4,284.79 290.7,285.06 291,284.65 291.3,284.77 291.6,284.86 291.9,285.48 292.2,285.57 292.5,284.77 292.8,284.42 293.1,284.99 293.4,285.62 293.7,284.73 294,284.96 294.3,284.77 294.6,285.83 294.9,285.39 295.2,284.51 295.5,284.58 295.8,285.11 296.1,285.39 296.4,285.55 296.7,284.56 297,284.69 297.3,285.65 297.6,285.14 297.9,284.91 298.2,284.95 298.5,286.12 298.8,284.96 299.1,285.42 299.4,285.04 299.7,285.15 300,285.96 300.3,286.19 300.6,285.05 300.9,284.75 301.2,285.71 301.5,284.77 301.8,284.41 302.1,286.02 302.4,285.16 302.7,285.3 302.7,271.3 302.75,285.3 302.7,285.88 303,285.13 303.3,285.99 303.6,285.23 303.9,284.69 304.2,284.43 304.5,285.39 304.8,285.55 305.1,286.04 305.2,285.3 305.2,278.9 305.25,285.3 305.4,284.56 305.7,285.52 306,285.07 306.3,285.31 306.6,284.66 306.9,284.91 307.2,285.34 307.5,286.07 307.8,284.6 308.1,285.28 308.4,285.85 308.7,286.14 309,284.76 309.3,284.63 309.6,286.1 309.9,286.16 310.2,285.27 310.5,284.5 310.8,286.07 311.1,285.1 311.4,286.03 311.7,285.52 312,285.88 312.3,284.69 312.6,285.81 312.9,284.8 313.2,285.13 313.5,285.92 313.8,285.89 314.1,284.73 314.4,284.79 314.7,285.12 315,285.33 315.3,285.09 315.6,284.62 315.9,284.84 316.2,285.7 316.5,286.02 316.8,284.47 317.1,285.41 317.4,285.76 317.7,284.47 318,285.91 318.3,284.61 318.6,285.48 318.9,285.39 319.2,285.53 319.5,284.95 319.8,285.16 320.1,285.45 320.4,285.17 320.7,285.59 321,285.2 321.3,285.3 321.3,271.6 321.3,272.78 321.6,271.28 321.9,273.43 322.2,272.96 322.5,272.05 322.8,273.95 323.1,274.01 323.4,272.85 323.7,271.85 324,271.6 324,285.3 324,285.25 324.3,284.59 324.6,284.63 324.9,285.18 325.2,284.57 325.5,285.2 325.8,285.32 326.1,284.47 326.4,285.55 326.7,284.55 327,285.72 327.3,285.8 327.6,285.32 327.9,284.5 328.2,285.31 328.5,285.08 328.8,286.11 329.1,284.65 329.4,285.94 329.7,286.19 330,285.72 330.3,285.87 330.6,284.75 330.9,286.17 331.1,285.3 331.1,271.6 331.2,272.97 331.5,274.64 331.8,274.5 332.1,271.79 332.4,274.04 332.5,271.6 332.5,285.3 332.7,286.08 333,284.52 333.3,285.03 333.6,285.76 333.9,284.69 334.2,286.01 334.5,284.89 334.8,285.87 335.1,284.66 335.4,285.3 335.7,286.06 336,284.77 336.3,284.87 336.6,285.31 336.9,284.97 337.2,284.47 337.5,284.73 337.8,284.69 338.1,286.09 338.4,285.62 338.7,286.01 339,284.7 339.3,285.81 339.6,284.61 339.9,285.36 340.2,285.55 340.5,285.05 340.8,285.97 341.1,285.4 341.4,285.44 341.7,285.99 342,284.59 342.3,286.19 342.6,285.53 342.9,285.11 343.2,285.84 343.5,284.88 343.8,286.18 344.1,285.44 344.4,285.05" fill="none" stroke="#2a2a2a" stroke-width="0.9" stroke-linejoin="bevel"/>
<polyline points="29,394.54 29.24,394.67 29.48,395.11 29.72,394.56 29.96,394.61 30.2,394.7 30.44,394.22 30.68,394.61 30.92,394.76 31.16,394.95 31.4,394.11 31.4,379.72 31.65,381.75 31.9,378.68 31.9,395.16 32.15,394.78 32.4,394.74 32.4,379.14 32.7,380.63 33,379.27 33,394.04 33.24,394.56 33.48,394.53 33.71,395.01 33.95,394.62 34.19,394.77 34.42,394.6 34.66,394.79 34.9,394.55 34.9,379.63 35.2,382.5 35.5,381.35 35.5,394.28 35.8,394.35 36.1,394.08 36.1,381.59 36.34,381.91 36.58,382.36 36.82,378.53 37.06,382.17 37.3,382.45 37.3,378.82 37.53,381.64 37.76,378.88 37.99,382.39 38.22,379 38.45,378.94 38.68,381.72 38.91,380.77 39.14,379.3 39.37,379.06 39.6,379 39.6,365.33 39.8,368.36 40,365.69 40,379.38 40.23,381.96 40.45,378.94 40.67,379.39 40.9,381.63 41.12,379.73 41.35,378.9 41.57,379.52 41.8,380.03 41.8,395.15 42.03,394.58 42.25,394.69 42.48,395.04 42.71,394.22 42.93,394.18 43.16,395.09 43.39,394.98 43.62,394.3 43.84,394.23 44.07,394.89 44.3,395.13 44.52,394.24 44.75,395.14 44.98,395.06 45.2,394.72 45.43,394.51 45.66,394.12 45.88,394.05 46.11,395.16 46.34,394.29 46.57,394.85 46.79,394.31 47.02,394.99 47.25,394.72 47.47,394.35 47.7,394.21 47.7,381.45 47.93,379.48 48.15,381.98 48.38,379.69 48.6,379.38 48.65,385.89 48.7,379.38 48.83,379.57 49.05,379.7 49.27,382.46 49.5,379.12 49.5,386.91 49.7,388.52 49.9,387.67 49.9,382.36 50.12,382.27 50.35,380 50.58,378.71 50.8,378.88 51.02,379.82 51.25,378.87 51.48,380.05 51.7,382.32 51.7,394.16 51.94,395.16 52.18,394.41 52.41,394.1 52.65,394.57 52.89,394.09 53.12,395.03 53.36,395.13 53.6,394.04 53.6,380.59 53.8,381.24 54,378.64 54,364.94 54.23,365.6 54.46,365.9 54.69,367.36 54.91,366.43 55.14,366.66 55.37,365.82 55.6,364.67 55.6,337.02 55.83,339.21 56.05,340.16 56.27,337.15 56.5,338.66 56.73,337.96 56.95,338.58 57.17,338.21 57.4,339.13 57.4,328.41 57.7,326.26 58,329.09 58,316.14 58.25,319.19 58.3,328.71 58.35,319.19 58.5,316.72 58.5,338.41 58.74,337.47 58.99,339.12 59.23,337.88 59.47,340.55 59.71,336.93 59.76,332.49 59.81,336.93 59.96,339.47 60.2,337.87 60.2,360.5 60.43,362.24 60.48,367.77 60.53,362.24 60.67,360.99 60.9,362.94 61.13,362.95 61.37,363.66 61.6,363.17 61.6,352.54 61.9,350.69 62.2,353.5 62.2,337.75 62.44,339.45 62.67,339.13 62.91,338.25 63.15,340.3 63.2,333.93 63.25,340.3 63.38,338.48 63.62,340.23 63.67,332.85 63.72,340.23 63.85,340.2 64.09,340.47 64.33,339.3 64.56,339.58 64.8,339.26 64.8,324.97 65.05,328.05 65.3,326.28 65.55,325.42 65.8,327.56 65.8,341.24 66.03,343.11 66.27,342.86 66.32,349.46 66.37,342.86 66.5,341.05 66.73,343.66 66.97,342.8 67.2,344.52 67.2,353.41 67.44,354.22 67.68,353.46 67.92,352.46 68.16,354.03 68.4,351.37 68.4,368.3 68.63,367.36 68.86,368.16 69.09,365.9 69.31,366.86 69.54,366.67 69.77,365.14 69.82,369.5 69.87,365.14 70,368.56 70,380.25 70.23,380.89 70.45,381.41 70.68,380.8 70.91,382.47 71.13,379.72 71.36,379.16 71.59,381.91 71.81,380.56 72.04,379.42 72.27,382.35 72.49,381.77 72.54,386.84 72.59,381.77 72.72,378.7 72.95,381.55 73.17,380.65 73.4,380.98 73.4,390.91 73.68,391.29 73.95,391.22 74.22,391.93 74.5,388.51 74.5,381.19 74.72,381.12 74.94,382.12 75.17,379.53 75.39,380.83 75.61,379.21 75.83,381.17 76.06,379.39 76.28,382.23 76.5,381.78 76.5,394.12 76.75,395.07 77,394.16 77.25,394.11 77.5,394.47 77.75,394.52 78,395.13 78,380.84 78.23,379.47 78.46,381.87 78.69,380.95 78.92,381.96 79.15,381.49 79.38,380.05 79.61,382.01 79.84,380.61 79.89,372.97 79.94,380.61 80.07,382.3 80.3,379.44 80.3,379.37 80.6,379.81 80.9,381 80.9,366.09 81.1,363.76 81.3,365.08 81.3,379.52 81.53,381.22 81.76,379.48 81.99,380.12 82.21,382.37 82.44,379.07 82.67,379.98 82.9,382.06 82.9,395.09 83.12,395.13 83.34,394.68 83.56,394.23 83.78,394.7 84,394.41 84.23,394.91 84.45,394.34 84.67,394.14 84.89,394.89 85.11,394.19 85.33,395.12 85.55,394.16 85.77,394.4 85.99,394.65 86.21,394.44 86.43,394.52 86.66,394.22 86.88,394.25 87.1,394.22 87.32,394.96 87.54,394.36 87.76,394.12 87.98,395.07 88.2,395.19 88.42,395.08 88.64,394.06 88.87,394.33 89.09,395.15 89.31,394.36 89.53,394.26 89.75,394.49 89.97,394.22 90.19,394.09 90.41,394.62 90.63,394.6 90.85,394.26 91.07,394.14 91.3,394.47 91.52,394.69 91.74,394.14 91.96,394.13 92.18,394.28 92.4,394.53 92.4,387.68 92.67,388.71 92.93,388.25 93.2,385.7 93.2,379.76 93.42,380.09 93.65,380.39 93.87,382.11 94.09,380.5 94.32,380.93 94.54,382.55 94.76,382.48 94.99,382.61 95.21,380.9 95.43,380.45 95.66,379.87 95.88,379.98 96.1,380.67 96.33,382.45 96.55,381.73 96.6,389.21 96.65,381.73 96.77,381.27 97,381.47 97.22,380 97.44,381.07 97.67,380.02 97.89,379.63 98.11,379.74 98.33,378.92 98.56,381.98 98.78,379.32 99,379.72 99.23,378.95 99.45,379.22 99.67,380.17 99.9,380.2 100.12,380.42 100.34,381.31 100.57,380.21 100.79,382.01 101.01,379.91 101.24,380.68 101.46,379.99 101.68,382.14 101.91,381.19 102.13,381.55 102.35,379.87 102.58,382.56 102.8,381.37 102.8,353.8 103.06,351.11 103.32,351.18 103.37,358.42 103.42,351.18 103.58,351.37 103.63,346.27 103.68,351.37 103.84,352.02 104.1,353.02 104.1,346.9 104.37,346.09 104.63,348.76 104.9,348.85 104.9,354.17 105.15,354.08 105.4,351.7 105.4,368.28 105.64,366.1 105.87,368.24 106.11,367.55 106.35,366.79 106.58,367.11 106.82,367.21 107.05,366.8 107.29,364.98 107.53,368.59 107.76,367.73 108,368.01 108,382.3 108.24,381.4 108.49,382.4 108.73,380.54 108.97,382.39 109.21,379.9 109.46,382.75 109.7,379.67 109.7,367.88 109.94,365.3 110.19,365.06 110.43,367.31 110.67,367.92 110.91,366.53 111.16,367.34 111.4,365.33 111.4,382.21 111.63,379.67 111.86,379.42 112.09,378.88 112.31,380.48 112.54,380.01 112.77,380.13 113,379.21 113,394.03 113.22,394.78 113.45,394.12 113.67,394.98 113.89,394.51 114.12,394.85 114.34,394.59 114.56,395.09 114.78,394.41 115.01,394.55 115.23,394.42 115.45,394.97 115.68,394.4 115.9,394.16 116.12,394.59 116.35,394.97 116.57,394.09 116.79,394.74 117.02,394.06 117.24,394.91 117.46,395.18 117.68,394.42 117.91,394 118.13,394.45 118.35,394.11 118.58,394.56 118.8,394.65 118.8,381.67 119.05,383.02 119.3,381.61 119.3,394.13 119.53,395.11 119.76,395.1 119.99,394.29 120.21,394.19 120.44,394.76 120.67,394.82 120.9,394.39 120.9,380.38 121.13,379.92 121.37,380.71 121.6,380.04 121.83,382.5 122.07,381.84 122.12,391.13 122.17,381.84 122.3,378.97 122.3,365.79 122.6,365.99 122.9,367.43 122.9,379.57 123.12,379.52 123.34,380.08 123.56,382.1 123.78,379.87 124,382.49 124.22,381.02 124.44,380.76 124.66,379.03 124.88,382.04 125.1,380.94 125.32,379.93 125.54,381.47 125.76,378.88 125.98,380.32 126.2,381.69 126.42,379.47 126.64,380.13 126.86,382.32 127.08,381.39 127.3,379.91 127.52,379.45 127.74,378.85 127.96,382.23 128.18,379.17 128.4,381.71 128.4,369.76 128.7,371.67 129,371.28 129,382.01 129.23,382.52 129.46,382.15 129.68,381.02 129.91,379.48 130.14,380.1 130.37,379.16 130.59,380.72 130.82,380.29 131.05,379.28 131.28,380.7 131.5,382.18 131.73,378.91 131.96,381.7 132.19,381.12 132.41,378.9 132.64,382.06 132.87,381.33 133.1,380.37 133.32,380.06 133.55,380.43 133.78,379.89 134.01,381.79 134.23,382.65 134.46,381.76 134.69,382.18 134.92,379.43 135.14,381.58 135.37,379.59 135.6,382.22 135.6,365.5 135.82,365.77 136.05,366.77 136.28,368.83 136.5,367.19 136.5,354.49 136.72,352.97 136.94,353.08 136.99,360.71 137.04,353.08 137.17,352.7 137.39,352.41 137.61,353.55 137.83,352.19 138.06,353.2 138.28,352.26 138.5,352.62 138.5,340.58 138.75,339.88 139,338.67 139.25,339.79 139.5,338.53 139.5,355.45 139.73,355.2 139.97,351.57 140.2,354.57 140.43,353.38 140.67,352.8 140.72,358.49 140.77,352.8 140.9,355 141.13,354.39 141.37,353.75 141.6,351.73 141.6,365.86 141.83,368.77 142.05,365.77 142.28,365.2 142.5,366.64 142.73,366.64 142.96,367.58 143.18,367.01 143.41,368.33 143.63,369.19 143.86,368.22 144.09,368.83 144.31,367.76 144.54,365.84 144.77,365.34 144.99,365.68 145.22,366.55 145.44,366.19 145.67,365.43 145.9,368.1 146.12,366.83 146.35,365.63 146.57,368.81 146.8,367.48 146.8,380.04 147.03,380.76 147.25,381.67 147.47,379.38 147.7,382.67 147.7,394.62 147.92,394.5 148.14,394.03 148.36,395.09 148.58,394.36 148.8,394.74 149.02,394.52 149.24,394.45 149.46,394.39 149.68,394.95 149.9,395.06 150.12,395.05 150.34,394.29 150.56,395.01 150.78,394.29 151.01,395.05 151.23,395.17 151.45,394.57 151.67,394.13 151.89,395.09 152.11,394.65 152.33,394.79 152.55,395.13 152.77,395.06 152.99,395.2 153.21,394.88 153.43,395.05 153.65,394.44 153.87,394.66 154.09,394.68 154.31,394.2 154.53,394.78 154.75,394.51 154.97,394.15 155.19,394.09 155.41,394.62 155.63,394.16 155.85,395.06 156.07,394.69 156.29,394.54 156.51,394.36 156.73,394.87 156.95,394.03 157.17,394.21 157.39,394.53 157.62,394.54 157.84,394.64 158.06,394.17 158.28,394.83 158.5,394.28 158.72,394.37 158.94,394.55 159.16,394.38 159.38,394.39 159.6,394.17 159.82,394.93 160.04,394.93 160.26,395.05 160.48,394.24 160.7,395.03 160.92,394.83 161.14,394.07 161.36,394.38 161.58,395.03 161.8,395.08 162.02,394.02 162.24,394.76 162.46,394.84 162.68,394.67 162.9,394.64 163.12,394.28 163.34,395.14 163.56,395.17 163.78,394.78 164.01,394.37 164.23,394.98 164.45,395.15 164.67,394.33 164.89,394.5 165.11,395.05 165.33,394.4 165.55,395.15 165.77,394.93 165.99,394.5 166.21,394.2 166.43,395.03 166.65,394.14 166.87,394.83 167.09,394.32 167.31,394.86 167.53,394.6 167.75,394.35 167.97,394.33 168.19,394.96 168.41,394.63 168.63,394.14 168.85,394.62 169.07,395.17 169.29,395.07 169.51,394.22 169.73,394.27 169.95,394.16 170.17,394.8 170.39,394.56 170.62,394.09 170.84,395.1 171.06,394.09 171.28,395.09 171.5,394.01 171.72,394.7 171.94,394.64 172.16,394.51 172.38,394.68 172.6,394.2 172.82,395.19 173.04,394.23 173.26,394.22 173.48,394.88 173.7,394.03 173.7,382.17 173.92,382.6 174.14,382.67 174.36,379.02 174.58,379.25 174.8,382.11 174.8,366.7 175.07,365.54 175.33,368.73 175.6,369.35 175.6,381.14 175.82,382.1 176.04,380.75 176.26,381.2 176.48,381.88 176.7,380.05 176.92,382.43 177.14,380.06 177.36,382.9 177.58,380.81 177.8,380.32 178.02,381.45 178.24,381.03 178.46,382.45 178.68,379.48 178.9,381.58 179.12,381.91 179.34,379.24 179.56,381.81 179.78,381.98 180,382.09 180,377.55 180.27,376.46 180.53,376.93 180.8,377.32 180.8,380.27 181.03,381.79 181.26,382.82 181.48,382.01 181.71,379.52 181.94,381.06 182.17,378.98 182.39,381.06 182.62,381.18 182.85,382.69 183.08,381.66 183.3,382.84 183.53,380.11 183.76,382.35 183.99,379.26 184.21,380.15 184.44,382.6 184.67,379.54 184.9,382.87 185.12,381.16 185.35,382.42 185.58,379.59 185.81,382.61 186.03,380.38 186.26,380.53 186.49,382.03 186.72,380.77 186.94,381.22 187.17,380.73 187.4,381.34 187.4,359.1 187.67,358.82 187.93,358.25 188.2,359.62 188.2,368.23 188.43,367.53 188.67,366.12 188.9,365.48 189.13,368.35 189.37,366.2 189.6,365.71 189.83,368.58 190.07,368.64 190.3,366.24 190.53,367.89 190.77,367.63 191,365.95 191,379.24 191.22,380.37 191.44,381.5 191.67,380.91 191.89,380.52 192.11,382.22 192.33,380.84 192.55,379.24 192.77,380.11 193,380.16 193.22,379.24 193.44,381.66 193.66,378.71 193.88,381.63 194.1,378.92 194.33,380.88 194.55,379.13 194.77,380.13 194.99,379.67 195.21,379.1 195.43,380.58 195.66,379.75 195.88,379.49 196.1,379.41 196.32,380 196.54,380.67 196.77,382.21 196.99,380.49 197.21,381.98 197.43,382.22 197.65,379.04 197.87,382.2 198.1,380.05 198.32,379.74 198.54,382.08 198.76,378.67 198.98,380.02 199.2,381.78 199.43,381.08 199.65,379.87 199.87,378.62 200.09,379.36 200.31,378.68 200.53,380.93 200.76,378.75 200.98,380.27 201.2,380 201.2,367.7 201.5,366.94 201.8,365.03 201.8,374.13 202.02,373.92 202.25,376.74 202.47,373.05 202.69,376.42 202.91,373.34 203.14,376.55 203.36,376.2 203.58,373.42 203.63,368.05 203.68,373.42 203.8,374.58 204.03,373.76 204.25,374.32 204.47,376.2 204.7,374.63 204.92,375.64 205.14,375.55 205.36,375.78 205.59,375.9 205.81,376.9 206.03,376.48 206.25,376.33 206.48,375.65 206.7,375.41 206.7,366.76 206.92,366.42 207.15,367.6 207.38,367.36 207.6,367.55 207.82,368.23 208.05,367.06 208.27,368.73 208.5,365.3 208.72,365.87 208.95,365.59 209.17,365.95 209.4,368.67 209.62,367.54 209.85,368.47 210.07,365.84 210.3,367.42 210.53,367.47 210.75,365.37 210.97,368.22 211.2,366.16 211.43,367.93 211.65,368.34 211.88,368.14 212.1,364.98 212.32,368.19 212.55,365.6 212.78,366.33 213,367 213,358.83 213.25,361.42 213.5,361.29 213.75,361.53 214,359.67 214,343.98 214.23,342.72 214.46,342.04 214.69,340.76 214.91,342.64 215.14,341.03 215.19,348.99 215.24,341.03 215.37,340.44 215.6,340.98 215.83,344.38 216.06,340.54 216.29,342.65 216.51,341.26 216.74,343.71 216.97,341.15 217.2,341.39 217.2,358.81 217.47,356.71 217.73,360.29 218,359.21 218,347.2 218.3,347.35 218.6,350.64 218.6,363.33 218.82,362.93 219.05,365.56 219.28,363.09 219.5,364.52 219.72,364.92 219.95,363.77 220.18,363.47 220.4,364.33 220.4,373.14 220.62,375.47 220.84,373.68 221.06,375.07 221.29,373.81 221.51,375.17 221.73,373.61 221.95,373.26 222.17,373.06 222.39,373.35 222.61,373.15 222.84,373.25 222.89,380.26 222.94,373.25 223.06,374.13 223.28,374.66 223.5,373.32 223.5,357.68 223.72,356.82 223.94,358.11 224.17,357.26 224.39,359.2 224.61,357.47 224.83,360.16 225.06,357.1 225.28,360.32 225.5,358.89 225.5,340.15 225.74,340.03 225.99,340.99 226.23,339.58 226.48,338.01 226.72,340.31 226.97,340.21 227.21,339.08 227.46,339.94 227.7,339.6 227.7,353.45 227.92,353.31 228.15,354.66 228.38,352.81 228.6,353.88 228.82,353.87 229.05,352.53 229.28,351.42 229.5,352.87 229.72,354.27 229.95,354.65 230.18,354.09 230.4,354.87 230.4,319.53 230.62,317.05 230.85,317.87 231.08,319.51 231.3,317.16 231.3,328.39 231.53,331.25 231.76,329.06 231.99,331.51 232.21,330.29 232.44,331.27 232.67,329.55 232.72,338.95 232.77,329.55 232.9,331.9 233.13,329.23 233.36,330.53 233.41,322.87 233.46,330.53 233.59,331.68 233.64,326.32 233.69,331.68 233.81,330.58 234.04,330.97 234.27,330.73 234.5,328.12 234.73,329.32 234.96,329.17 235.19,330.83 235.41,328.56 235.64,329.91 235.87,328.5 236.1,330.48 236.1,340.86 236.34,342.84 236.57,341.51 236.81,341.7 237.05,342.59 237.29,343.34 237.53,341.88 237.76,343.82 238,342.86 238,353.06 238.23,354.23 238.46,354.15 238.69,352.55 238.92,352.28 239.15,353.13 239.38,350.97 239.61,351.84 239.84,354.52 240.07,353.48 240.3,351.68 240.3,364.59 240.53,365.06 240.75,365.42 240.98,367.45 241.2,366.23 241.43,367.62 241.65,365.49 241.88,366.92 242.1,365.4 242.33,367.81 242.38,362.74 242.43,367.81 242.55,364.3 242.78,366.03 243,366.61 243.22,364.88 243.28,371.51 243.32,364.88 243.45,364.91 243.68,364.42 243.9,367.98 244.12,367.13 244.35,366.04 244.57,365.95 244.8,366.02 245.03,367.13 245.08,359.03 245.12,367.13 245.25,367.09 245.47,366.6 245.7,365.83 245.92,365.67 246.15,365.41 246.38,367.25 246.6,364.35 246.6,358.16 246.85,359.01 247.1,359.9 247.35,356.17 247.6,358.54 247.85,357.12 248.1,356.86 248.1,352.41 248.32,352.9 248.54,350.95 248.76,354.13 248.98,352.54 249.2,352.78 249.43,352.99 249.65,353.37 249.7,358.85 249.75,353.37 249.87,353.7 249.92,345.51 249.97,353.7 250.09,351.13 250.31,350.62 250.36,359.92 250.41,350.62 250.53,352.67 250.75,353.6 250.97,351.69 251.19,352.63 251.41,352.16 251.63,351.29 251.85,352.71 252.07,354.39 252.3,350.85 252.52,351.53 252.74,351.33 252.79,357.69 252.84,351.33 252.96,353.04 253.18,350.91 253.4,352.57 253.4,365.29 253.63,367.03 253.86,366.6 254.09,365.18 254.31,365.82 254.54,366.67 254.77,366.1 255,366.47 255.23,364.7 255.46,366.49 255.69,364.55 255.91,363.93 256.14,364.17 256.37,365.07 256.6,364.54 256.83,366.91 257.06,366.26 257.29,364.03 257.51,364.05 257.74,364.56 257.97,363.79 258.2,364.27 258.2,336.84 258.43,337.67 258.67,336.04 258.9,337.06 258.9,366.1 259.12,364.47 259.34,366.92 259.57,364.96 259.79,367.27 260.01,364.3 260.23,366.34 260.45,366.63 260.68,366.8 260.9,367.18 261.12,366.92 261.34,365 261.56,366.42 261.79,365.16 262.01,366.17 262.23,367.03 262.45,364.85 262.67,367.34 262.9,364.64 263.12,367.12 263.34,364.33 263.56,365.5 263.78,366.72 264.01,365.44 264.23,366.93 264.45,364.8 264.5,372.65 264.55,364.8 264.67,365.01 264.89,366.23 265.12,365.85 265.34,366.57 265.56,366.3 265.78,363.84 266,366 266.23,365.11 266.45,367.15 266.67,364.47 266.89,364.3 267.11,363.71 267.34,365.09 267.56,364.98 267.78,364.17 268,366.14 268.22,364.02 268.45,364.82 268.67,365.37 268.89,365.19 269.11,364.83 269.33,364.38 269.56,367.33 269.78,366.33 270,364.03 270,377.31 270.3,378.11 270.6,377.06 270.6,366.59 270.83,366.68 271.05,363.8 271.28,364.04 271.5,366.01 271.73,365.58 271.95,363.64 272,373.12 272.05,363.64 272.18,363.94 272.4,366.61 272.62,363.84 272.85,366.51 273.07,366.31 273.3,365.66 273.53,364.52 273.75,366.41 273.98,365.46 274.2,366.03 274.43,364.14 274.65,364.35 274.88,366.81 275.1,365.46 275.32,366.96 275.55,364.46 275.6,354.88 275.65,364.46 275.77,364.03 276,364.65 276,380.28 276.3,377.03 276.6,377.04 276.6,367.12 276.82,366.9 277.04,364.96 277.26,363.55 277.49,365.66 277.71,366.72 277.93,363.75 278.15,365.96 278.2,361.27 278.25,365.96 278.37,366.78 278.59,364.06 278.81,363.78 279.04,366.66 279.26,364.88 279.48,365.6 279.7,367.14 279.92,366.74 280.14,363.83 280.36,363.78 280.59,363.59 280.81,364.36 281.03,364.81 281.25,363.9 281.47,366.54 281.69,365.84 281.91,364.65 282.14,364.03 282.36,364.09 282.58,364.04 282.8,366.76 282.8,376.57 283.03,379.28 283.27,377.79 283.5,380.11 283.5,391.24 283.72,391.25 283.94,391.54 284.17,391.27 284.39,392.1 284.61,391.22 284.83,391.81 285.06,391.73 285.28,391.71 285.5,391.69 285.5,385.29 285.75,383.09 286,384.24 286.25,383.26 286.5,385.04 286.5,379.35 286.75,376.54 287,376.77 287.25,378.41 287.5,376.58 287.75,376.95 288,376.68 288,392 288.23,392.2 288.46,391.5 288.69,391.8 288.92,391.28 289.15,392.19 289.38,391.25 289.62,392.09 289.85,391.67 290.08,392.13 290.31,391.08 290.54,392.17 290.77,392.09 291,391.06 291,376.54 291.25,378.11 291.5,376.68 291.75,378.39 292,377.69 292.25,376.96 292.5,377.7 292.5,391.28 292.73,391.84 292.95,391.28 293.18,392.02 293.41,392.06 293.64,391.8 293.86,391.44 294.09,391.87 294.32,392.11 294.55,391.18 294.77,392.04 295,392.18 295,379.33 295.23,376.92 295.45,378.76 295.68,378.52 295.91,378.2 296.14,377.48 296.36,379.05 296.41,388.71 296.46,379.05 296.59,380.17 296.82,377.18 297.05,378.99 297.27,378.37 297.5,378.83 297.73,380.42 297.95,376.59 298.18,378.31 298.41,378.19 298.64,378.61 298.86,376.62 299.09,379.73 299.32,376.54 299.55,380.29 299.77,376.7 299.82,380.98 299.87,376.7 300,377.66 300,385.38 300.25,386.81 300.5,385.82 300.5,378.34 300.75,377.71 301,379.98 301.25,378.12 301.5,378.29 301.75,380.1 302,380.19 302,392.06 302.22,391.2 302.44,391.61 302.66,392.18 302.89,391.35 303.11,391.21 303.33,391.87 303.55,391.28 303.77,391.7 303.99,391.19 304.21,392.14 304.44,391.34 304.66,391.12 304.88,391.82 305.1,391.42 305.32,391.67 305.54,391.6 305.76,392.11 305.99,391.62 306.21,391.45 306.43,391 306.65,391.6 306.87,391.32 307.09,391.69 307.31,391.76 307.54,391.55 307.76,391.11 307.98,391.6 308.2,391.58 308.2,376.41 308.43,374.97 308.66,374.19 308.89,374.79 309.12,377.04 309.35,377.46 309.58,375.56 309.81,377.64 310.04,375.78 310.27,377.22 310.5,375.23 310.5,364.22 310.72,366.58 310.94,367.03 311.16,366.55 311.38,366.6 311.61,364.07 311.83,364.58 312.05,367.05 312.1,359.16 312.15,367.05 312.27,365.26 312.49,366.08 312.71,367.13 312.93,367.28 313.15,364.42 313.37,364.94 313.59,365.82 313.82,364.43 314.04,365.98 314.26,366.06 314.48,365.02 314.7,366.4 314.7,355.27 314.95,357.92 315.2,357.06 315.45,357.76 315.7,358.14 315.7,352.77 315.93,350.91 316.16,352.17 316.39,350.41 316.62,353.39 316.67,362.78 316.72,353.39 316.85,353.95 317.08,354.12 317.31,354.16 317.54,351.65 317.77,352.41 318,350.46 318.23,352.46 318.46,353.3 318.69,351.12 318.92,351.29 319.15,350.61 319.2,356.47 319.25,350.61 319.38,353.77 319.61,352.46 319.84,354.02 320.07,354.01 320.12,360.63 320.17,354.01 320.3,353.08 320.3,339.48 320.6,341.01 320.9,338.27 320.9,354.34 321.13,351.11 321.36,350.58 321.59,352.56 321.82,353.24 322.05,351.64 322.28,352.95 322.51,352.19 322.74,350.79 322.96,354.19 323.19,350.6 323.24,357.4 323.29,350.6 323.42,352.83 323.65,354.36 323.88,353.52 324.11,353.64 324.34,353.84 324.57,350.73 324.8,351.37 324.8,333.7 325.03,335.07 325.27,334.57 325.5,333.08 325.5,360.88 325.76,360.64 326.02,358.28 326.07,351.23 326.12,358.28 326.28,358.58 326.54,360.49 326.8,360.11 326.8,371.8 327.05,371.75 327.3,371.27 327.55,371.65 327.8,373.1 328.05,371.91 328.3,371.83 328.3,380.13 328.52,379.69 328.74,379.23 328.96,377.73 329.18,380.34 329.4,379.22 329.62,379.16 329.85,379.63 330.07,380.47 330.29,379.4 330.34,385.52 330.39,379.4 330.51,378.26 330.73,378.07 330.95,377.75 331.17,379.54 331.39,378.55 331.61,377.42 331.83,376.82 332.05,379.4 332.28,378.01 332.5,377.58 332.72,378.19 332.94,376.66 333.16,378.9 333.38,378.6 333.43,372.47 333.48,378.6 333.6,380.37 333.6,392.11 333.83,391.95 334.07,391.59 334.3,391.58 334.53,392.09 334.77,392.16 335,391.81 335,376.96 335.25,378.42 335.5,378.33 335.55,384.5 335.6,378.33 335.75,379.6 336,377.77 336.25,379.33 336.5,378.09 336.5,391.43 336.75,391.64 337,391.03 337.25,391.45 337.5,391.79 337.75,391.18 338,391.37 338,380.07 338.25,377.58 338.5,377.05 338.75,379.75 339,377.64 339.25,379.36 339.3,388.37 339.35,379.36 339.5,377.43 339.5,391.84 339.75,391.4 340,392.05 340.25,391.26 340.5,391.57 340.75,391.38 341,391.53 341,379.84 341.25,379.02 341.5,377.48 341.75,379.07 342,380.45 342.25,378.35 342.5,379.9 342.5,391.81 342.74,391.21 342.97,391.43 343.21,391.85 343.45,391.26 343.68,392.06 343.92,392.05 344.15,391.27 344.39,391.44 344.63,391.27 344.86,391.86 345.1,391.06" fill="none" stroke="#2a2a2a" stroke-width="0.8" stroke-linejoin="bevel"/>
<g opacity="0.85"><line x1="29.15" y1="394.6" x2="31.25" y2="394.6" stroke="#2a2a2a" stroke-width="1.5"/><line x1="31.55" y1="380.51" x2="31.75" y2="380.51" stroke="#2a2a2a" stroke-width="2.5"/><line x1="32.05" y1="394.6" x2="32.25" y2="394.6" stroke="#2a2a2a" stroke-width="1.5"/><line x1="32.55" y1="380.51" x2="32.85" y2="380.51" stroke="#2a2a2a" stroke-width="2.5"/><line x1="33.15" y1="394.6" x2="34.75" y2="394.6" stroke="#2a2a2a" stroke-width="1.5"/><line x1="35.05" y1="380.52" x2="35.35" y2="380.52" stroke="#2a2a2a" stroke-width="2.5"/><line x1="35.65" y1="394.6" x2="35.95" y2="394.6" stroke="#2a2a2a" stroke-width="1.5"/><line x1="36.25" y1="380.52" x2="37.15" y2="380.53" stroke="#2a2a2a" stroke-width="2.5"/><line x1="37.45" y1="380.53" x2="39.45" y2="380.54" stroke="#2a2a2a" stroke-width="2.5"/><line x1="40.15" y1="380.54" x2="41.65" y2="380.54" stroke="#2a2a2a" stroke-width="2.5"/><line x1="41.95" y1="394.6" x2="47.55" y2="394.6" stroke="#2a2a2a" stroke-width="1.5"/><line x1="47.85" y1="380.57" x2="49.35" y2="380.57" stroke="#2a2a2a" stroke-width="2.5"/><line x1="50.05" y1="380.57" x2="51.55" y2="380.58" stroke="#2a2a2a" stroke-width="2.5"/><line x1="51.85" y1="394.6" x2="53.45" y2="394.6" stroke="#2a2a2a" stroke-width="1.5"/><line x1="54.15" y1="366.57" x2="55.45" y2="366.59" stroke="#2a2a2a" stroke-width="2.5"/><line x1="55.75" y1="338.57" x2="57.25" y2="338.6" stroke="#2a2a2a" stroke-width="2.5"/><line x1="57.55" y1="327.39" x2="57.85" y2="327.4" stroke="#2a2a2a" stroke-width="2.5"/><line x1="58.15" y1="317.61" x2="58.35" y2="317.61" stroke="#2a2a2a" stroke-width="2.5"/><line x1="58.65" y1="338.61" x2="60.05" y2="338.63" stroke="#2a2a2a" stroke-width="2.5"/><line x1="60.35" y1="362.42" x2="61.45" y2="362.43" stroke="#2a2a2a" stroke-width="2.5"/><line x1="61.75" y1="352.64" x2="62.05" y2="352.65" stroke="#2a2a2a" stroke-width="2.5"/><line x1="62.35" y1="338.66" x2="64.65" y2="338.7" stroke="#2a2a2a" stroke-width="2.5"/><line x1="64.95" y1="326.12" x2="65.65" y2="326.14" stroke="#2a2a2a" stroke-width="2.5"/><line x1="65.95" y1="342.9" x2="67.05" y2="342.92" stroke="#2a2a2a" stroke-width="2.5"/><line x1="67.35" y1="352.7" x2="68.25" y2="352.71" stroke="#2a2a2a" stroke-width="2.5"/><line x1="68.55" y1="366.67" x2="69.85" y2="366.69" stroke="#2a2a2a" stroke-width="2.5"/><line x1="70.15" y1="380.64" x2="73.25" y2="380.65" stroke="#2a2a2a" stroke-width="2.5"/><line x1="73.55" y1="390.42" x2="74.35" y2="390.42" stroke="#2a2a2a" stroke-width="2.5"/><line x1="74.65" y1="380.66" x2="76.35" y2="380.67" stroke="#2a2a2a" stroke-width="2.5"/><line x1="76.65" y1="394.6" x2="77.85" y2="394.6" stroke="#2a2a2a" stroke-width="1.5"/><line x1="78.15" y1="380.67" x2="80.15" y2="380.68" stroke="#2a2a2a" stroke-width="2.5"/><line x1="80.45" y1="380.68" x2="80.75" y2="380.68" stroke="#2a2a2a" stroke-width="2.5"/><line x1="81.45" y1="380.68" x2="82.75" y2="380.69" stroke="#2a2a2a" stroke-width="2.5"/><line x1="83.05" y1="394.6" x2="92.25" y2="394.6" stroke="#2a2a2a" stroke-width="1.5"/><line x1="92.55" y1="387.66" x2="93.05" y2="387.66" stroke="#2a2a2a" stroke-width="2.5"/><line x1="93.35" y1="380.72" x2="102.65" y2="380.76" stroke="#2a2a2a" stroke-width="2.5"/><line x1="102.95" y1="353.07" x2="103.95" y2="353.08" stroke="#2a2a2a" stroke-width="2.5"/><line x1="104.25" y1="347.55" x2="104.75" y2="347.56" stroke="#2a2a2a" stroke-width="2.5"/><line x1="105.05" y1="353.09" x2="105.25" y2="353.1" stroke="#2a2a2a" stroke-width="2.5"/><line x1="105.55" y1="366.93" x2="107.85" y2="366.95" stroke="#2a2a2a" stroke-width="2.5"/><line x1="108.15" y1="380.78" x2="109.55" y2="380.78" stroke="#2a2a2a" stroke-width="2.5"/><line x1="109.85" y1="366.96" x2="111.25" y2="366.97" stroke="#2a2a2a" stroke-width="2.5"/><line x1="111.55" y1="380.79" x2="112.85" y2="380.79" stroke="#2a2a2a" stroke-width="2.5"/><line x1="113.15" y1="394.6" x2="118.65" y2="394.6" stroke="#2a2a2a" stroke-width="1.5"/><line x1="118.95" y1="383.57" x2="119.15" y2="383.57" stroke="#2a2a2a" stroke-width="2.5"/><line x1="119.45" y1="394.6" x2="120.75" y2="394.6" stroke="#2a2a2a" stroke-width="1.5"/><line x1="121.05" y1="380.82" x2="122.15" y2="380.82" stroke="#2a2a2a" stroke-width="2.5"/><line x1="122.45" y1="367.05" x2="122.75" y2="367.05" stroke="#2a2a2a" stroke-width="2.5"/><line x1="123.05" y1="380.83" x2="128.25" y2="380.85" stroke="#2a2a2a" stroke-width="2.5"/><line x1="128.55" y1="369.84" x2="128.85" y2="369.85" stroke="#2a2a2a" stroke-width="2.5"/><line x1="129.15" y1="380.85" x2="135.45" y2="380.87" stroke="#2a2a2a" stroke-width="2.5"/><line x1="135.75" y1="367.14" x2="136.35" y2="367.15" stroke="#2a2a2a" stroke-width="2.5"/><line x1="136.65" y1="353.42" x2="138.35" y2="353.44" stroke="#2a2a2a" stroke-width="2.5"/><line x1="138.65" y1="339.72" x2="139.35" y2="339.74" stroke="#2a2a2a" stroke-width="2.5"/><line x1="139.65" y1="353.45" x2="141.45" y2="353.48" stroke="#2a2a2a" stroke-width="2.5"/><line x1="141.75" y1="367.18" x2="146.65" y2="367.22" stroke="#2a2a2a" stroke-width="2.5"/><line x1="146.95" y1="380.91" x2="147.55" y2="380.91" stroke="#2a2a2a" stroke-width="2.5"/><line x1="147.85" y1="394.6" x2="173.55" y2="394.6" stroke="#2a2a2a" stroke-width="1.5"/><line x1="173.85" y1="381" x2="174.65" y2="381.01" stroke="#2a2a2a" stroke-width="2.5"/><line x1="174.95" y1="367.42" x2="175.45" y2="367.42" stroke="#2a2a2a" stroke-width="2.5"/><line x1="175.75" y1="381.01" x2="179.85" y2="381.03" stroke="#2a2a2a" stroke-width="2.5"/><line x1="180.15" y1="376.95" x2="180.65" y2="376.93" stroke="#2a2a2a" stroke-width="2.5"/><line x1="180.95" y1="381" x2="187.25" y2="380.83" stroke="#2a2a2a" stroke-width="2.5"/><line x1="187.55" y1="359.15" x2="188.05" y2="359.13" stroke="#2a2a2a" stroke-width="2.5"/><line x1="188.35" y1="367.26" x2="190.85" y2="367.2" stroke="#2a2a2a" stroke-width="2.5"/><line x1="191.15" y1="380.73" x2="201.05" y2="380.46" stroke="#2a2a2a" stroke-width="2.5"/><line x1="201.35" y1="366.96" x2="201.65" y2="366.95" stroke="#2a2a2a" stroke-width="2.5"/><line x1="201.95" y1="375.05" x2="206.55" y2="374.93" stroke="#2a2a2a" stroke-width="2.5"/><line x1="206.85" y1="366.84" x2="212.85" y2="366.69" stroke="#2a2a2a" stroke-width="2.5"/><line x1="213.15" y1="359.96" x2="213.85" y2="359.94" stroke="#2a2a2a" stroke-width="2.5"/><line x1="214.15" y1="342.45" x2="217.05" y2="342.39" stroke="#2a2a2a" stroke-width="2.5"/><line x1="217.35" y1="358.53" x2="217.85" y2="358.51" stroke="#2a2a2a" stroke-width="2.5"/><line x1="218.15" y1="349.1" x2="218.45" y2="349.09" stroke="#2a2a2a" stroke-width="2.5"/><line x1="218.75" y1="363.87" x2="220.25" y2="363.83" stroke="#2a2a2a" stroke-width="2.5"/><line x1="220.55" y1="374.58" x2="223.35" y2="374.5" stroke="#2a2a2a" stroke-width="2.5"/><line x1="223.65" y1="358.4" x2="225.35" y2="358.35" stroke="#2a2a2a" stroke-width="2.5"/><line x1="225.65" y1="339.57" x2="227.55" y2="339.54" stroke="#2a2a2a" stroke-width="2.5"/><line x1="227.85" y1="352.94" x2="230.25" y2="352.89" stroke="#2a2a2a" stroke-width="2.5"/><line x1="230.55" y1="318.05" x2="231.15" y2="318.04" stroke="#2a2a2a" stroke-width="2.5"/><line x1="231.45" y1="330.1" x2="235.95" y2="330.04" stroke="#2a2a2a" stroke-width="2.5"/><line x1="236.25" y1="342.08" x2="237.85" y2="342.04" stroke="#2a2a2a" stroke-width="2.5"/><line x1="238.15" y1="352.74" x2="240.15" y2="352.7" stroke="#2a2a2a" stroke-width="2.5"/><line x1="240.45" y1="366.06" x2="246.45" y2="365.92" stroke="#2a2a2a" stroke-width="2.5"/><line x1="246.75" y1="357.91" x2="247.95" y2="357.88" stroke="#2a2a2a" stroke-width="2.5"/><line x1="248.25" y1="352.55" x2="253.25" y2="352.44" stroke="#2a2a2a" stroke-width="2.5"/><line x1="253.55" y1="365.76" x2="258.05" y2="365.65" stroke="#2a2a2a" stroke-width="2.5"/><line x1="258.35" y1="337.72" x2="258.75" y2="337.7" stroke="#2a2a2a" stroke-width="2.5"/><line x1="259.05" y1="365.63" x2="269.85" y2="365.38" stroke="#2a2a2a" stroke-width="2.5"/><line x1="270.15" y1="378.64" x2="270.45" y2="378.62" stroke="#2a2a2a" stroke-width="2.5"/><line x1="270.75" y1="365.36" x2="275.85" y2="365.24" stroke="#2a2a2a" stroke-width="2.5"/><line x1="276.15" y1="378.48" x2="276.45" y2="378.46" stroke="#2a2a2a" stroke-width="2.5"/><line x1="276.75" y1="365.23" x2="282.65" y2="365.17" stroke="#2a2a2a" stroke-width="2.5"/><line x1="282.95" y1="378.38" x2="283.35" y2="378.39" stroke="#2a2a2a" stroke-width="2.5"/><line x1="283.65" y1="391.6" x2="285.35" y2="391.6" stroke="#2a2a2a" stroke-width="1.5"/><line x1="285.65" y1="385" x2="286.35" y2="385" stroke="#2a2a2a" stroke-width="2.5"/><line x1="286.65" y1="378.4" x2="287.85" y2="378.4" stroke="#2a2a2a" stroke-width="2.5"/><line x1="288.15" y1="391.6" x2="290.85" y2="391.6" stroke="#2a2a2a" stroke-width="1.5"/><line x1="291.15" y1="378.41" x2="292.35" y2="378.42" stroke="#2a2a2a" stroke-width="2.5"/><line x1="292.65" y1="391.6" x2="294.85" y2="391.6" stroke="#2a2a2a" stroke-width="1.5"/><line x1="295.15" y1="378.43" x2="299.85" y2="378.44" stroke="#2a2a2a" stroke-width="2.5"/><line x1="300.15" y1="386.34" x2="300.35" y2="386.34" stroke="#2a2a2a" stroke-width="2.5"/><line x1="300.65" y1="378.45" x2="301.85" y2="378.45" stroke="#2a2a2a" stroke-width="2.5"/><line x1="302.15" y1="391.6" x2="308.05" y2="391.6" stroke="#2a2a2a" stroke-width="1.5"/><line x1="308.35" y1="375.85" x2="310.35" y2="375.86" stroke="#2a2a2a" stroke-width="2.5"/><line x1="310.65" y1="365.36" x2="314.55" y2="365.39" stroke="#2a2a2a" stroke-width="2.5"/><line x1="314.85" y1="356.22" x2="315.55" y2="356.22" stroke="#2a2a2a" stroke-width="2.5"/><line x1="315.85" y1="352.29" x2="320.15" y2="352.34" stroke="#2a2a2a" stroke-width="2.5"/><line x1="320.45" y1="339.26" x2="320.75" y2="339.26" stroke="#2a2a2a" stroke-width="2.5"/><line x1="321.05" y1="352.35" x2="324.65" y2="352.39" stroke="#2a2a2a" stroke-width="2.5"/><line x1="324.95" y1="334.09" x2="325.35" y2="334.1" stroke="#2a2a2a" stroke-width="2.5"/><line x1="325.65" y1="358.93" x2="326.65" y2="358.94" stroke="#2a2a2a" stroke-width="2.5"/><line x1="326.95" y1="372" x2="328.15" y2="372.01" stroke="#2a2a2a" stroke-width="2.5"/><line x1="328.45" y1="378.54" x2="333.45" y2="378.56" stroke="#2a2a2a" stroke-width="2.5"/><line x1="333.75" y1="391.6" x2="334.85" y2="391.6" stroke="#2a2a2a" stroke-width="1.5"/><line x1="335.15" y1="378.57" x2="336.35" y2="378.57" stroke="#2a2a2a" stroke-width="2.5"/><line x1="336.65" y1="391.6" x2="337.85" y2="391.6" stroke="#2a2a2a" stroke-width="1.5"/><line x1="338.15" y1="378.58" x2="339.35" y2="378.58" stroke="#2a2a2a" stroke-width="2.5"/><line x1="339.65" y1="391.6" x2="340.85" y2="391.6" stroke="#2a2a2a" stroke-width="1.5"/><line x1="341.15" y1="378.59" x2="342.35" y2="378.59" stroke="#2a2a2a" stroke-width="2.5"/><line x1="342.65" y1="391.6" x2="344.95" y2="391.6" stroke="#2a2a2a" stroke-width="1.5"/></g>
<polyline points="242.8,232 248.3,249.4 263.9,249.4 267.6,232" fill="none" stroke="#1d1d1d" stroke-width="1.9" stroke-linejoin="round"/>
<line x1="243.8" y1="234" x2="266.4" y2="234" stroke="#1d1d1d" stroke-width="1.3" />
<polyline points="305.6,232 311.1,249.4 326.7,249.4 330.4,232" fill="none" stroke="#1d1d1d" stroke-width="1.9" stroke-linejoin="round"/>
<line x1="306.6" y1="234" x2="329.2" y2="234" stroke="#1d1d1d" stroke-width="1.3" />
<polygon points="246,219 256.3,216.6 256.6,226.6 251.7,227.4" fill="#eccaa4"/>
<line x1="244.4" y1="217.8" x2="257.4" y2="244.2" stroke="#1d1d1d" stroke-width="1.9" />
<line x1="256.4" y1="215" x2="259.4" y2="243.3" stroke="#1d1d1d" stroke-width="1.9" />
<polygon points="309.4,218.8 318.9,216.6 322.5,241 320.5,241.5" fill="#eccaa4"/>
<line x1="307.6" y1="218" x2="321.1" y2="245.6" stroke="#1d1d1d" stroke-width="1.9" />
<line x1="319.8" y1="215.6" x2="323.3" y2="243.9" stroke="#1d1d1d" stroke-width="1.9" />
<line x1="271" y1="241.7" x2="299" y2="241.7" stroke="#1d1d1d" stroke-width="1.4" />
<polygon points="306.5,241.9 294.8,237.1 297.8,241.8 294.8,246.6" fill="#1d1d1d"/>
<text x="371.5" y="210.6" font-size="16.5" text-anchor="start" fill="#111" font-weight="bold" >D</text>
<line x1="408" y1="210.45" x2="511" y2="210.45" stroke="#9a9a9a" stroke-width="1.0" stroke-dasharray="3.6 3.4"/>
<line x1="408" y1="268.3" x2="511" y2="268.3" stroke="#9a9a9a" stroke-width="1.0" stroke-dasharray="3.6 3.4"/>
<line x1="408" y1="326.15" x2="511" y2="326.15" stroke="#9a9a9a" stroke-width="1.0" stroke-dasharray="3.6 3.4"/>
<text x="514.4" y="214.55" font-size="11" text-anchor="start" fill="#333" font-weight="normal" >1.5</text>
<text x="514.4" y="272.4" font-size="11" text-anchor="start" fill="#333" font-weight="normal" >1</text>
<text x="514.4" y="330.25" font-size="11" text-anchor="start" fill="#333" font-weight="normal" >0.5</text>
<text x="514.4" y="388.1" font-size="11" text-anchor="start" fill="#333" font-weight="normal" >0</text>
<rect x="423.7" y="376.1" width="17.3" height="7.9" fill="#e0343c"/>
<rect x="477.2" y="236.48" width="17.9" height="147.52" fill="#e0343c"/>
<line x1="408" y1="384" x2="510" y2="384" stroke="#6a6a6a" stroke-width="1.5" />
<line x1="432.4" y1="372.7" x2="432.4" y2="378.8" stroke="#333" stroke-width="1.4" />
<line x1="431.1" y1="372.7" x2="433.7" y2="372.7" stroke="#333" stroke-width="1.4" />
<line x1="431.1" y1="378.8" x2="433.7" y2="378.8" stroke="#333" stroke-width="1.4" />
<line x1="485.9" y1="221.1" x2="485.9" y2="251.7" stroke="#333" stroke-width="1.4" />
<line x1="484.6" y1="221.1" x2="487.2" y2="221.1" stroke="#333" stroke-width="1.4" />
<line x1="484.6" y1="251.7" x2="487.2" y2="251.7" stroke="#333" stroke-width="1.4" />
<text x="486.3" y="221.6" font-size="13" text-anchor="middle" fill="#333" font-weight="normal" letter-spacing="0.6">**</text>
<text x="433.2" y="400.7" font-size="11.9" text-anchor="middle" fill="#333" font-weight="normal" >control</text>
<text x="488.9" y="400.7" font-size="11.9" text-anchor="middle" fill="#333" font-weight="normal" >SCH-79797</text>
<text transform="translate(400.4,296.1) rotate(-90)" font-size="13.6" text-anchor="middle" fill="#333">MscL open probability (NPo)</text>
</svg></body></html>
